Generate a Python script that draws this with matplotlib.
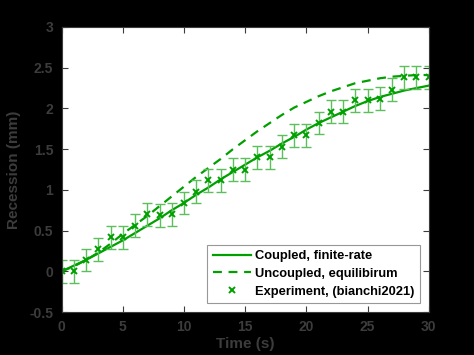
import numpy as np
import matplotlib.pyplot as plt

plt.rcParams['font.family'] = ['Liberation Sans', 'DejaVu Sans']
plt.rcParams['font.weight'] = 'bold'

# model curves (time in s, recession in mm)
t_model = np.arange(0, 31)
coupled = [0.00, 0.07, 0.14, 0.22, 0.30, 0.38, 0.47, 0.56, 0.65, 0.75,
           0.84, 0.94, 1.03, 1.13, 1.22, 1.31, 1.40, 1.48, 1.57, 1.65,
           1.74, 1.82, 1.89, 1.96, 2.03, 2.09, 2.14, 2.18, 2.22, 2.25, 2.28]
uncoupled = [0.00, 0.06, 0.14, 0.23, 0.34, 0.46, 0.57, 0.68, 0.80, 0.92,
             1.04, 1.16, 1.27, 1.38, 1.50, 1.61, 1.72, 1.82, 1.92, 2.01,
             2.08, 2.15, 2.21, 2.26, 2.31, 2.34, 2.37, 2.39, 2.40, 2.41, 2.41]

# experiment
t_exp = np.arange(0, 31)
exp_val = [0.00, 0.00, 0.14, 0.27, 0.42, 0.42, 0.56, 0.70, 0.69, 0.70,
           0.84, 0.98, 1.12, 1.12, 1.25, 1.25, 1.40, 1.40, 1.53, 1.67,
           1.67, 1.82, 1.96, 1.96, 2.10, 2.10, 2.12, 2.23, 2.38, 2.38, 2.38]
exp_err = 0.14

green = '#00a000'
tick_col = '#3c3c3c'

fig = plt.figure(figsize=(4.74, 3.55), dpi=100, facecolor='black')
ax = fig.add_axes([0.130, 0.121, 0.7745, 0.803])
ax.set_facecolor('white')

ax.plot(t_model, coupled, '-', color=green, linewidth=1.6, label='Coupled, finite-rate')
ax.plot(t_model, uncoupled, '--', color=green, linewidth=1.6, dashes=(4, 3),
        label='Uncoupled, equilibirum')
ax.errorbar(t_exp, exp_val, yerr=exp_err, fmt='none', ecolor='#5cbf5c',
            elinewidth=1.0, capsize=3.5, capthick=1.0)
ax.plot(t_exp, exp_val, 'x', color=green, markersize=4.5, markeredgewidth=1.4,
        label='Experiment, (bianchi2021)')

ax.set_xlim(0, 30)
ax.set_ylim(-0.5, 3)
ax.set_xticks(np.arange(0, 31, 5))
ax.set_yticks(np.arange(-0.5, 3.01, 0.5))
ax.set_yticklabels(['-0.5', '0', '0.5', '1', '1.5', '2', '2.5', '3'])
ax.tick_params(direction='in', top=True, right=True, length=4, width=0.8,
               colors=tick_col, labelsize=10, pad=6)
for lab in ax.get_xticklabels() + ax.get_yticklabels():
    lab.set_fontweight('bold')
for s in ax.spines.values():
    s.set_color(tick_col)
    s.set_linewidth(0.8)

ax.set_xlabel('Time (s)', fontsize=11, fontweight='bold', color=tick_col, labelpad=2)
ax.set_ylabel('Recession (mm)', fontsize=11, fontweight='bold', color=tick_col, labelpad=6)

leg = ax.legend(loc='lower right', fontsize=9.3, handlelength=3.0, frameon=True,
                fancybox=False, edgecolor='#7f7f7f', borderaxespad=0.7,
                labelspacing=0.45, handletextpad=0.3)
leg.get_frame().set_linewidth(0.8)
for txt in leg.get_texts():
    txt.set_fontweight('bold')

fig.savefig('out.png', dpi=100, facecolor='black')
